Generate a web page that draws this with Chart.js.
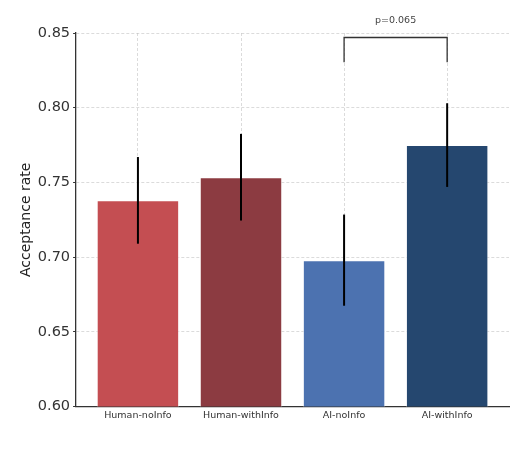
<!DOCTYPE html>
<html>
<head>
<meta charset="utf-8">
<script src="https://cdn.jsdelivr.net/npm/chart.js@4"></script>
<style>
  html, body { margin: 0; padding: 0; background: #fff; }
  #wrap { width: 526px; height: 469px; }
</style>
</head>
<body>
<div id="wrap"><canvas id="chart" width="526" height="469"></canvas></div>
<script>
// Acceptance rate by condition, with error bars
const categories = ["Human-noInfo", "Human-withInfo", "AI-noInfo", "AI-withInfo"];
const rates = [0.738, 0.7535, 0.698, 0.775];
const errors = [0.029, 0.029, 0.0305, 0.028];
const barColors = ["#C44E52", "#8C3B41", "#4C72B0", "#25476F"];
const yTicks = [0.60, 0.65, 0.70, 0.75, 0.80, 0.85];

// significance bracket between AI-noInfo and AI-withInfo
const bracketPair = [2, 3];
const bracketTop = 0.847;
const bracketBottom = 0.8305;
const pLabel = "p=0.065";

const FONT = "'DejaVu Sans', sans-serif";
const GRID = "rgba(190,190,190,0.55)";

const errorBars = {
  id: "errorBars",
  afterDraw(chart) {
    const { ctx, scales: { x, y } } = chart;
    ctx.save();
    ctx.strokeStyle = "#000";
    ctx.lineWidth = 2;
    rates.forEach((v, i) => {
      const px = x.getPixelForValue(i);
      ctx.beginPath();
      ctx.moveTo(px, y.getPixelForValue(v - errors[i]));
      ctx.lineTo(px, y.getPixelForValue(v + errors[i]));
      ctx.stroke();
    });
    ctx.restore();
  }
};

const bracket = {
  id: "bracket",
  afterDraw(chart) {
    const { ctx, scales: { x, y } } = chart;
    const x1 = x.getPixelForValue(bracketPair[0]);
    const x2 = x.getPixelForValue(bracketPair[1]);
    const yt = y.getPixelForValue(bracketTop);
    const yb = y.getPixelForValue(bracketBottom);
    ctx.save();
    ctx.strokeStyle = "#333";
    ctx.lineWidth = 1.3;
    ctx.beginPath();
    ctx.moveTo(x1, yb);
    ctx.lineTo(x1, yt);
    ctx.lineTo(x2, yt);
    ctx.lineTo(x2, yb);
    ctx.stroke();
    ctx.fillStyle = "#444";
    ctx.font = "9.5px " + FONT;
    ctx.textAlign = "center";
    ctx.textBaseline = "bottom";
    ctx.fillText(pLabel, (x1 + x2) / 2, yt - 12);
    ctx.restore();
  }
};

new Chart(document.getElementById("chart"), {
  type: "bar",
  data: {
    datasets: [{
      data: rates.map((v, i) => ({ x: i, y: v })),
      backgroundColor: barColors,
      borderColor: "rgba(255,255,255,0.55)",
      borderWidth: 1,
      barPercentage: 0.8,
      categoryPercentage: 1
    }]
  },
  options: {
    responsive: false,
    animation: false,
    layout: { padding: { top: 33, right: 17, bottom: 45, left: 18 } },
    plugins: {
      legend: { display: false },
      tooltip: { enabled: false }
    },
    scales: {
      x: {
        type: "linear",
        min: -0.6,
        max: 3.6,
        offset: false,
        z: 1,
        afterBuildTicks(axis) {
          axis.ticks = categories.map((_, i) => ({ value: i }));
        },
        ticks: {
          autoSkip: false,
          maxRotation: 0,
          padding: 3,
          color: "#333",
          font: { family: FONT, size: 9.5 },
          callback: (v) => categories[v]
        },
        grid: {
          offset: false,
          color: GRID,
          drawTicks: false
        },
        border: { display: true, color: "#333", width: 1.3, dash: [3, 2] }
      },
      y: {
        min: 0.6,
        max: 0.85,
        z: 1,
        afterBuildTicks(axis) {
          axis.ticks = yTicks.map((v) => ({ value: v }));
        },
        title: {
          display: true,
          text: "Acceptance rate",
          color: "#222",
          font: { family: FONT, size: 14 },
          padding: { top: 0, bottom: 0 }
        },
        ticks: {
          color: "#333",
          padding: 3,
          font: { family: FONT, size: 14.5 },
          callback: (v) => Number(v).toFixed(2)
        },
        grid: {
          color: GRID,
          tickColor: "#333",
          tickLength: 3
        },
        border: { display: true, color: "#333", width: 1.3, dash: [3, 2] }
      }
    }
  },
  plugins: [errorBars, bracket]
});
</script>
</body>
</html>
